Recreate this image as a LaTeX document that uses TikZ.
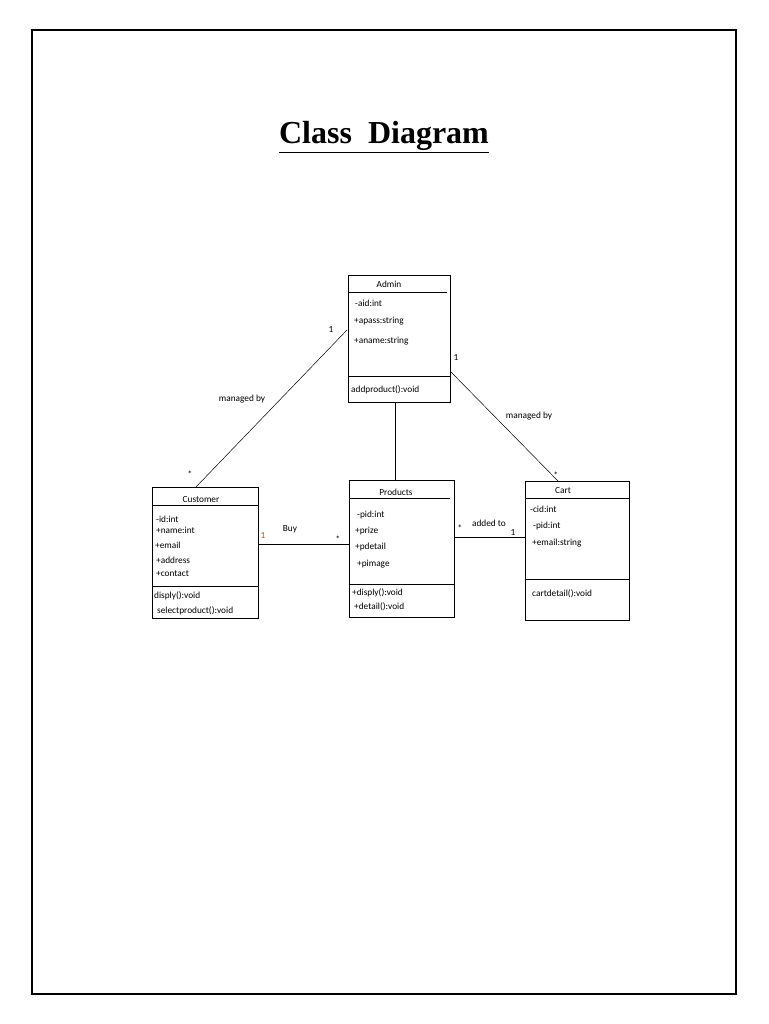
\documentclass[tikz,border=0pt]{standalone}
\usepackage{fontspec}
\setmainfont{Carlito}
\newfontfamily\titlefont{Liberation Serif}
\begin{document}
\begin{tikzpicture}[x=1pt,y=-1pt,
  cls/.style={draw,line width=0.8pt},
  txt/.style={font=\fontsize{9.3}{11}\selectfont,anchor=west,inner sep=0pt},
  lbl/.style={font=\fontsize{9.3}{11}\selectfont,inner sep=0pt},
  conn/.style={line width=0.5pt}]
\useasboundingbox (0,0) rectangle (768,1024);
\draw[line width=1.2pt] (32,30) rectangle (736,994);
\node[font=\titlefont\bfseries\fontsize{32}{36}\selectfont] (title) at (384,137) {\underline{Class\ \ Diagram}};
% Admin
\node[cls,minimum width=102pt,minimum height=127pt,inner sep=0pt] (admin) at (399,338.5) {};
\draw (348,292) -- (447,292); \draw (348,376) -- (450,376);
\node[lbl] (an) at (389,284) {Admin};
\node[txt] (a1) at (355,303) {-aid:int};
\node[txt] (a2) at (354,321) {+apass:string};
\node[txt] (a3) at (354,341) {+aname:string};
\node[txt] (a4) at (351,390) {addproduct():void};
% Customer
\node[cls,minimum width=106pt,minimum height=131pt,inner sep=0pt] (cust) at (205,552.5) {};
\draw (152,505) -- (258,505); \draw (152,586) -- (258,586);
\node[lbl] (cn) at (201,500) {Customer};
\node[txt] (c1) at (156,519) {-id:int};
\node[txt] (c2) at (156,530) {+name:int};
\node[txt] (c3) at (155,545) {+email};
\node[txt] (c4) at (156,560) {+address};
\node[txt] (c5) at (156,574) {+contact};
\node[txt] (c6) at (154,596) {disply():void};
\node[txt] (c7) at (157,611) {selectproduct():void};
% Products
\node[cls,minimum width=105pt,minimum height=137pt,inner sep=0pt] (prod) at (401.5,548.5) {};
\draw (349,498) -- (450,498); \draw (349,584) -- (454,584);
\node[lbl] (pn) at (396,492) {Products};
\node[txt] (p1) at (357,515) {-pid:int};
\node[txt] (p2) at (355,531) {+prize};
\node[txt] (p3) at (355,547) {+pdetail};
\node[txt] (p4) at (357,564) {+pimage};
\node[txt] (p5) at (352,593) {+disply():void};
\node[txt] (p6) at (354,607) {+detail():void};
% Cart
\node[cls,minimum width=104pt,minimum height=139pt,inner sep=0pt] (cart) at (577,550.5) {};
\draw (525,498) -- (629,498); \draw (525,579) -- (629,579);
\node[lbl] (kn) at (563,491) {Cart};
\node[txt] (k1) at (530,509) {-cid:int};
\node[txt] (k2) at (533,526) {-pid:int};
\node[txt] (k3) at (532,543) {+email:string};
\node[txt] (k4) at (532,594) {cartdetail():void};
% connectors
\coordinate (aL) at (347,330); \coordinate (cT) at (196,487);
\draw[conn] (aL) -- (cT);
\coordinate (aB) at (395,402); \coordinate (pT) at (395,480);
\draw[line width=1pt] (aB) -- (pT);
\coordinate (aR) at (451,372); \coordinate (kT) at (558,481);
\draw[conn] (aR) -- (kT);
\coordinate (cR) at (258,544); \coordinate (pL) at (349,544);
\draw[conn] (cR) -- (pL);
\coordinate (pR) at (454,537); \coordinate (kL) at (525,537);
\draw[line width=0.8pt] (pR) -- (kL);
% labels
\node[lbl] (l1) at (331,330) {1};
\node[lbl] (l2) at (242,399) {managed by};
\node[lbl] (l3) at (190,474) {*};
\node[lbl] (l4) at (456,358) {1};
\node[lbl] (l5) at (529,416) {managed by};
\node[lbl] (l6) at (556,475) {*};
\node[lbl,text=orange!70!black] (l7) at (263,536) {1};
\node[lbl] (l8) at (290,529) {Buy};
\node[lbl] (l9) at (338,539) {*};
\node[lbl] (l10) at (460,528) {*};
\node[lbl] (l11) at (489,523) {added to};
\node[lbl] (l12) at (513,533) {1};
\end{tikzpicture}
\end{document}
